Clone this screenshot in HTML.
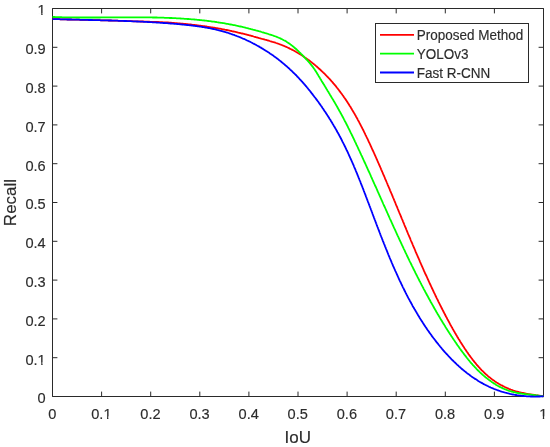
<!DOCTYPE html>
<html><head><meta charset="utf-8"><title>Recall vs IoU</title>
<style>
html,body{margin:0;padding:0;background:#fff;}
body{width:550px;height:447px;overflow:hidden;}
svg{display:block;}
text{font-family:"Liberation Sans",Arial,Helvetica,sans-serif;fill:#2c2c2c;stroke:#2c2c2c;stroke-width:0.15px;}
</style></head><body>
<svg width="550" height="447" viewBox="0 0 550 447">
<rect width="550" height="447" fill="#fff"/>
<path d="M52.50 8.50H543.50V396.50H52.50Z M52.50 396.50V391.60 M52.50 8.50V13.40 M52.50 396.50H57.40 M543.50 396.50H538.60 M101.60 396.50V391.60 M101.60 8.50V13.40 M52.50 357.70H57.40 M543.50 357.70H538.60 M150.70 396.50V391.60 M150.70 8.50V13.40 M52.50 318.90H57.40 M543.50 318.90H538.60 M199.80 396.50V391.60 M199.80 8.50V13.40 M52.50 280.10H57.40 M543.50 280.10H538.60 M248.90 396.50V391.60 M248.90 8.50V13.40 M52.50 241.30H57.40 M543.50 241.30H538.60 M298.00 396.50V391.60 M298.00 8.50V13.40 M52.50 202.50H57.40 M543.50 202.50H538.60 M347.10 396.50V391.60 M347.10 8.50V13.40 M52.50 163.70H57.40 M543.50 163.70H538.60 M396.20 396.50V391.60 M396.20 8.50V13.40 M52.50 124.90H57.40 M543.50 124.90H538.60 M445.30 396.50V391.60 M445.30 8.50V13.40 M52.50 86.10H57.40 M543.50 86.10H538.60 M494.40 396.50V391.60 M494.40 8.50V13.40 M52.50 47.30H57.40 M543.50 47.30H538.60 M543.50 396.50V391.60 M543.50 8.50V13.40 M52.50 8.50H57.40 M543.50 8.50H538.60" fill="none" stroke="#2a2a2a" stroke-width="1"/>
<g>
<path d="M52.5 19.1 L53.5 19.1 54.5 19.1 55.5 19.1 56.4 19.2 57.4 19.2 58.4 19.2 59.4 19.2 60.4 19.3 61.4 19.3 62.3 19.3 63.3 19.4 64.3 19.4 65.3 19.4 66.3 19.4 67.3 19.5 68.3 19.5 69.2 19.5 70.2 19.5 71.2 19.5 72.2 19.6 73.2 19.6 74.2 19.6 75.2 19.6 76.2 19.7 77.1 19.7 78.1 19.7 79.1 19.7 80.1 19.8 81.1 19.8 82.1 19.8 83.1 19.8 84.1 19.8 85.0 19.9 86.0 19.9 87.0 19.9 88.0 19.9 89.0 20.0 90.0 20.0 91.0 20.0 92.0 20.0 93.0 20.1 93.9 20.1 94.9 20.1 95.9 20.1 96.9 20.2 97.9 20.2 98.9 20.2 99.9 20.2 100.9 20.3 101.9 20.3 102.8 20.3 103.8 20.3 104.8 20.4 105.8 20.4 106.8 20.4 107.8 20.4 108.8 20.5 109.8 20.5 110.8 20.5 111.8 20.6 112.7 20.6 113.7 20.6 114.7 20.6 115.7 20.7 116.7 20.7 117.7 20.7 118.7 20.8 119.7 20.8 120.7 20.8 121.7 20.9 122.6 20.9 123.6 20.9 124.6 21.0 125.6 21.0 126.6 21.0 127.6 21.1 128.6 21.1 129.6 21.1 130.6 21.2 131.5 21.2 132.5 21.2 133.5 21.3 134.5 21.3 135.5 21.3 136.5 21.3 137.5 21.4 138.5 21.4 139.5 21.4 140.4 21.5 141.4 21.5 142.4 21.5 143.4 21.5 144.4 21.6 145.4 21.6 146.4 21.6 147.4 21.7 148.4 21.7 149.3 21.7 150.3 21.8 151.3 21.8 152.3 21.8 153.3 21.9 154.3 21.9 155.3 21.9 156.2 22.0 157.2 22.0 158.2 22.0 159.2 22.1 160.2 22.1 161.2 22.2 162.2 22.2 163.2 22.3 164.1 22.3 165.1 22.4 166.1 22.4 167.1 22.5 168.1 22.5 169.1 22.6 170.0 22.7 171.0 22.7 172.0 22.8 173.0 22.9 174.0 23.0 175.0 23.1 175.9 23.1 176.9 23.2 177.9 23.3 178.9 23.4 179.9 23.5 180.9 23.6 181.8 23.6 182.8 23.7 183.8 23.8 184.8 23.9 185.8 24.0 186.7 24.1 187.7 24.2 188.7 24.3 189.7 24.4 190.7 24.5 191.6 24.6 192.6 24.8 193.6 24.9 194.6 25.0 195.6 25.1 196.5 25.2 197.5 25.3 198.5 25.5 199.5 25.6 200.5 25.7 201.4 25.8 202.4 26.0 203.4 26.1 204.4 26.2 205.3 26.4 206.3 26.5 207.3 26.7 208.3 26.8 209.2 27.0 210.2 27.1 211.2 27.3 212.2 27.4 213.1 27.6 214.1 27.7 215.1 27.9 216.0 28.1 217.0 28.2 218.0 28.4 219.0 28.6 219.9 28.7 220.9 28.9 221.9 29.1 222.8 29.3 223.8 29.5 224.8 29.7 225.7 29.8 226.7 30.0 227.7 30.2 228.6 30.4 229.6 30.6 230.6 30.8 231.5 31.0 232.5 31.3 233.5 31.5 234.4 31.7 235.4 31.9 236.4 32.1 237.3 32.3 238.3 32.6 239.2 32.8 240.2 33.0 241.2 33.3 242.1 33.5 243.1 33.7 244.1 34.0 245.0 34.2 246.0 34.5 246.9 34.7 247.9 35.0 248.8 35.2 249.8 35.5 250.8 35.7 251.7 36.0 252.7 36.2 253.6 36.5 254.6 36.8 255.5 37.0 256.5 37.3 257.4 37.5 258.4 37.8 259.3 38.1 260.3 38.3 261.2 38.6 262.2 38.9 263.1 39.1 264.1 39.4 265.0 39.7 266.0 39.9 266.9 40.2 267.8 40.5 268.8 40.7 269.7 41.0 270.7 41.3 271.6 41.6 272.5 41.9 273.5 42.1 274.4 42.4 275.3 42.7 276.2 43.0 277.2 43.3 278.1 43.7 279.0 44.0 279.9 44.3 280.8 44.7 281.7 45.0 282.6 45.4 283.5 45.7 284.4 46.1 285.3 46.5 286.2 46.9 287.1 47.3 288.0 47.7 288.9 48.1 289.8 48.6 290.6 49.0 291.5 49.4 292.4 49.9 293.2 50.3 294.1 50.8 295.0 51.3 295.8 51.8 296.7 52.2 297.5 52.7 298.4 53.2 299.2 53.7 300.0 54.3 300.9 54.8 301.7 55.3 302.5 55.8 303.3 56.4 304.2 56.9 305.0 57.5 305.8 58.0 306.6 58.6 307.4 59.2 308.2 59.8 309.0 60.3 309.8 60.9 310.5 61.5 311.3 62.1 312.1 62.8 312.9 63.4 313.7 64.0 314.4 64.6 315.2 65.2 315.9 65.9 316.7 66.5 317.4 67.2 318.2 67.8 318.9 68.5 319.7 69.2 320.4 69.8 321.1 70.5 321.8 71.2 322.6 71.9 323.3 72.6 324.0 73.2 324.7 73.9 325.4 74.6 326.1 75.4 326.8 76.1 327.5 76.8 328.2 77.5 328.8 78.2 329.5 78.9 330.2 79.7 330.8 80.4 331.5 81.2 332.2 81.9 332.8 82.6 333.4 83.4 334.1 84.2 334.7 84.9 335.4 85.7 336.0 86.4 336.6 87.2 337.2 88.0 337.8 88.7 338.4 89.5 339.0 90.3 339.6 91.1 340.2 91.9 340.8 92.7 341.4 93.5 342.0 94.3 342.5 95.0 343.1 95.8 343.7 96.7 344.2 97.5 344.8 98.3 345.4 99.1 345.9 99.9 346.5 100.7 347.0 101.5 347.5 102.4 348.1 103.2 348.6 104.0 349.1 104.8 349.6 105.7 350.2 106.5 350.7 107.3 351.2 108.2 351.7 109.0 352.2 109.9 352.7 110.7 353.2 111.6 353.7 112.4 354.2 113.3 354.7 114.1 355.2 115.0 355.7 115.8 356.1 116.7 356.6 117.5 357.1 118.4 357.6 119.3 358.0 120.1 358.5 121.0 359.0 121.9 359.4 122.7 359.9 123.6 360.3 124.5 360.8 125.4 361.2 126.2 361.7 127.1 362.1 128.0 362.6 128.9 363.0 129.8 363.5 130.6 363.9 131.5 364.3 132.4 364.8 133.3 365.2 134.2 365.6 135.1 366.1 136.0 366.5 136.9 366.9 137.7 367.4 138.6 367.8 139.5 368.2 140.4 368.6 141.3 369.0 142.2 369.5 143.1 369.9 144.0 370.3 144.9 370.7 145.8 371.1 146.7 371.5 147.6 371.9 148.5 372.3 149.4 372.7 150.3 373.2 151.2 373.6 152.1 374.0 153.0 374.4 153.9 374.8 154.8 375.2 155.7 375.6 156.6 376.0 157.5 376.4 158.4 376.8 159.3 377.2 160.2 377.6 161.2 378.0 162.1 378.4 163.0 378.8 163.9 379.2 164.8 379.6 165.7 380.0 166.6 380.4 167.5 380.8 168.4 381.1 169.3 381.5 170.2 381.9 171.1 382.3 172.0 382.7 172.9 383.1 173.9 383.5 174.8 383.9 175.7 384.3 176.6 384.7 177.5 385.0 178.4 385.4 179.3 385.8 180.2 386.2 181.1 386.6 182.0 387.0 183.0 387.4 183.9 387.7 184.8 388.1 185.7 388.5 186.6 388.9 187.5 389.3 188.4 389.7 189.3 390.0 190.3 390.4 191.2 390.8 192.1 391.2 193.0 391.6 193.9 392.0 194.8 392.3 195.7 392.7 196.6 393.1 197.6 393.5 198.5 393.9 199.4 394.2 200.3 394.6 201.2 395.0 202.1 395.4 203.0 395.7 203.9 396.1 204.9 396.5 205.8 396.9 206.7 397.3 207.6 397.6 208.5 398.0 209.4 398.4 210.3 398.8 211.3 399.2 212.2 399.5 213.1 399.9 214.0 400.3 214.9 400.7 215.8 401.0 216.7 401.4 217.6 401.8 218.6 402.2 219.5 402.6 220.4 402.9 221.3 403.3 222.2 403.7 223.1 404.1 224.0 404.4 225.0 404.8 225.9 405.2 226.8 405.6 227.7 406.0 228.6 406.3 229.5 406.7 230.4 407.1 231.3 407.5 232.3 407.9 233.2 408.2 234.1 408.6 235.0 409.0 235.9 409.4 236.8 409.8 237.7 410.2 238.6 410.5 239.5 410.9 240.5 411.3 241.4 411.7 242.3 412.1 243.2 412.5 244.1 412.8 245.0 413.2 245.9 413.6 246.8 414.0 247.7 414.4 248.6 414.8 249.5 415.2 250.5 415.5 251.4 415.9 252.3 416.3 253.2 416.7 254.1 417.1 255.0 417.5 255.9 417.9 256.8 418.3 257.7 418.7 258.6 419.1 259.5 419.5 260.4 419.8 261.3 420.2 262.2 420.6 263.1 421.0 264.0 421.4 264.9 421.8 265.8 422.2 266.7 422.6 267.6 423.0 268.5 423.4 269.4 423.8 270.4 424.2 271.3 424.6 272.2 425.0 273.1 425.4 274.0 425.8 274.8 426.3 275.7 426.7 276.6 427.1 277.5 427.5 278.4 427.9 279.3 428.3 280.2 428.7 281.1 429.1 282.0 429.5 282.9 429.9 283.8 430.4 284.7 430.8 285.6 431.2 286.5 431.6 287.4 432.0 288.3 432.5 289.2 432.9 290.1 433.3 291.0 433.7 291.8 434.1 292.7 434.6 293.6 435.0 294.5 435.4 295.4 435.8 296.3 436.3 297.2 436.7 298.1 437.1 298.9 437.6 299.8 438.0 300.7 438.4 301.6 438.9 302.5 439.3 303.4 439.8 304.3 440.2 305.1 440.6 306.0 441.1 306.9 441.5 307.8 442.0 308.7 442.4 309.5 442.9 310.4 443.3 311.3 443.8 312.2 444.2 313.0 444.7 313.9 445.1 314.8 445.6 315.7 446.0 316.5 446.5 317.4 447.0 318.3 447.4 319.2 447.9 320.0 448.4 320.9 448.8 321.8 449.3 322.6 449.8 323.5 450.2 324.4 450.7 325.2 451.2 326.1 451.7 327.0 452.2 327.8 452.6 328.7 453.1 329.5 453.6 330.4 454.1 331.3 454.6 332.1 455.1 333.0 455.6 333.8 456.1 334.7 456.6 335.5 457.1 336.4 457.6 337.2 458.1 338.1 458.6 338.9 459.2 339.8 459.7 340.6 460.2 341.5 460.7 342.3 461.3 343.2 461.8 344.0 462.3 344.8 462.9 345.7 463.4 346.5 464.0 347.3 464.5 348.2 465.0 349.0 465.6 349.8 466.2 350.7 466.7 351.5 467.3 352.3 467.9 353.1 468.4 354.0 469.0 354.8 469.6 355.6 470.2 356.4 470.8 357.2 471.4 358.0 472.0 358.8 472.6 359.6 473.2 360.3 473.8 361.1 474.4 361.9 475.0 362.7 475.7 363.4 476.3 364.2 476.9 365.0 477.6 365.7 478.2 366.4 478.9 367.2 479.6 367.9 480.2 368.6 480.9 369.3 481.6 370.1 482.3 370.8 483.0 371.4 483.7 372.1 484.4 372.8 485.1 373.5 485.8 374.1 486.5 374.8 487.3 375.4 488.0 376.1 488.7 376.7 489.5 377.3 490.3 377.9 491.0 378.5 491.8 379.1 492.6 379.7 493.4 380.3 494.2 380.8 495.0 381.4 495.8 381.9 496.6 382.5 497.5 383.0 498.3 383.5 499.1 384.0 500.0 384.5 500.9 385.0 501.7 385.4 502.6 385.9 503.5 386.3 504.3 386.8 505.2 387.2 506.1 387.6 507.0 388.0 507.9 388.4 508.8 388.8 509.7 389.1 510.7 389.5 511.6 389.8 512.5 390.2 513.4 390.5 514.4 390.8 515.3 391.1 516.3 391.4 517.2 391.6 518.2 391.9 519.1 392.2 520.1 392.4 521.1 392.6 522.0 392.8 523.0 393.0 524.0 393.2 525.0 393.4 525.9 393.6 526.9 393.8 527.9 394.0 528.9 394.1 529.9 394.3 530.8 394.4 531.8 394.6 532.8 394.7 533.8 394.9 534.8 395.0 535.8 395.2 536.7 395.3 537.7 395.4 538.7 395.6 539.7 395.7 540.6 395.9 541.6 396.0 542.6 396.2 543.5 396.3" fill="none" stroke="#ff0000" stroke-width="1.8" stroke-linejoin="round"/>
<path d="M52.5 17.0 L53.5 17.0 54.5 17.0 55.5 17.1 56.5 17.1 57.5 17.1 58.4 17.2 59.4 17.2 60.4 17.2 61.4 17.2 62.4 17.3 63.4 17.3 64.4 17.3 65.4 17.3 66.4 17.3 67.3 17.3 68.3 17.4 69.3 17.4 70.3 17.4 71.3 17.4 72.3 17.4 73.3 17.4 74.3 17.4 75.3 17.4 76.3 17.5 77.3 17.5 78.2 17.5 79.2 17.5 80.2 17.5 81.2 17.5 82.2 17.5 83.2 17.5 84.2 17.5 85.2 17.5 86.2 17.5 87.2 17.5 88.2 17.5 89.2 17.5 90.2 17.5 91.1 17.5 92.1 17.5 93.1 17.5 94.1 17.5 95.1 17.5 96.1 17.5 97.1 17.5 98.1 17.5 99.1 17.5 100.1 17.5 101.1 17.4 102.1 17.4 103.1 17.4 104.1 17.4 105.1 17.4 106.1 17.4 107.1 17.4 108.0 17.4 109.0 17.4 110.0 17.4 111.0 17.4 112.0 17.4 113.0 17.4 114.0 17.4 115.0 17.4 116.0 17.4 117.0 17.3 118.0 17.3 119.0 17.3 120.0 17.3 121.0 17.3 122.0 17.3 123.0 17.3 124.0 17.3 125.0 17.3 126.0 17.3 126.9 17.3 127.9 17.3 128.9 17.3 129.9 17.3 130.9 17.3 131.9 17.3 132.9 17.3 133.9 17.3 134.9 17.3 135.9 17.3 136.9 17.3 137.9 17.3 138.9 17.3 139.9 17.3 140.9 17.3 141.9 17.3 142.9 17.3 143.9 17.3 144.9 17.4 145.8 17.4 146.8 17.4 147.8 17.4 148.8 17.4 149.8 17.4 150.8 17.4 151.8 17.4 152.8 17.5 153.8 17.5 154.8 17.5 155.8 17.5 156.8 17.5 157.8 17.6 158.8 17.6 159.8 17.6 160.7 17.6 161.7 17.7 162.7 17.7 163.7 17.7 164.7 17.8 165.7 17.8 166.7 17.8 167.7 17.9 168.7 17.9 169.7 18.0 170.7 18.0 171.7 18.0 172.6 18.1 173.6 18.1 174.6 18.2 175.6 18.2 176.6 18.3 177.6 18.3 178.6 18.4 179.6 18.4 180.6 18.5 181.6 18.6 182.5 18.6 183.5 18.7 184.5 18.8 185.5 18.8 186.5 18.9 187.5 19.0 188.5 19.0 189.5 19.1 190.4 19.2 191.4 19.3 192.4 19.3 193.4 19.4 194.4 19.5 195.4 19.6 196.4 19.7 197.3 19.8 198.3 19.9 199.3 20.0 200.3 20.1 201.3 20.2 202.3 20.3 203.3 20.4 204.2 20.5 205.2 20.6 206.2 20.7 207.2 20.9 208.2 21.0 209.2 21.1 210.1 21.2 211.1 21.3 212.1 21.5 213.1 21.6 214.1 21.7 215.0 21.9 216.0 22.0 217.0 22.2 218.0 22.3 219.0 22.5 219.9 22.6 220.9 22.8 221.9 22.9 222.9 23.1 223.8 23.2 224.8 23.4 225.8 23.6 226.8 23.8 227.8 23.9 228.7 24.1 229.7 24.3 230.7 24.5 231.7 24.7 232.6 24.9 233.6 25.1 234.6 25.2 235.5 25.4 236.5 25.7 237.5 25.9 238.5 26.1 239.4 26.3 240.4 26.5 241.4 26.7 242.3 26.9 243.3 27.2 244.3 27.4 245.3 27.6 246.2 27.9 247.2 28.1 248.2 28.3 249.1 28.6 250.1 28.8 251.1 29.1 252.0 29.3 253.0 29.6 253.9 29.8 254.9 30.1 255.9 30.4 256.8 30.6 257.8 30.9 258.7 31.2 259.7 31.4 260.7 31.7 261.6 32.0 262.6 32.3 263.5 32.5 264.5 32.8 265.4 33.1 266.4 33.4 267.3 33.7 268.3 34.0 269.2 34.3 270.2 34.6 271.1 34.9 272.0 35.2 273.0 35.5 273.9 35.9 274.8 36.2 275.8 36.5 276.7 36.9 277.6 37.3 278.5 37.7 279.4 38.0 280.3 38.4 281.2 38.9 282.1 39.3 282.9 39.7 283.8 40.2 284.7 40.6 285.5 41.1 286.3 41.6 287.2 42.2 288.0 42.7 288.8 43.2 289.6 43.8 290.4 44.4 291.2 45.0 292.0 45.6 292.8 46.2 293.6 46.9 294.3 47.5 295.1 48.2 295.8 48.8 296.6 49.5 297.3 50.2 298.1 50.9 298.8 51.6 299.5 52.3 300.2 53.0 300.9 53.7 301.7 54.4 302.4 55.1 303.1 55.9 303.8 56.6 304.4 57.3 305.1 58.0 305.8 58.8 306.5 59.5 307.2 60.2 307.8 60.9 308.5 61.7 309.1 62.4 309.8 63.1 310.4 63.9 311.0 64.6 311.6 65.4 312.2 66.2 312.8 66.9 313.4 67.7 313.9 68.5 314.5 69.3 315.0 70.1 315.6 70.9 316.1 71.7 316.6 72.6 317.1 73.4 317.6 74.2 318.1 75.0 318.6 75.9 319.1 76.7 319.6 77.5 320.1 78.4 320.6 79.2 321.1 80.0 321.6 80.9 322.1 81.7 322.6 82.6 323.1 83.4 323.7 84.2 324.2 85.1 324.7 85.9 325.2 86.8 325.7 87.6 326.2 88.4 326.7 89.3 327.2 90.1 327.7 91.0 328.3 91.8 328.8 92.7 329.3 93.5 329.8 94.4 330.3 95.2 330.8 96.1 331.3 96.9 331.8 97.8 332.3 98.6 332.9 99.5 333.4 100.3 333.9 101.2 334.4 102.0 334.9 102.9 335.4 103.8 335.9 104.6 336.4 105.5 336.9 106.3 337.4 107.2 337.8 108.1 338.3 108.9 338.8 109.8 339.3 110.7 339.8 111.5 340.3 112.4 340.7 113.3 341.2 114.1 341.7 115.0 342.2 115.9 342.6 116.8 343.1 117.6 343.6 118.5 344.0 119.4 344.5 120.3 344.9 121.2 345.4 122.0 345.9 122.9 346.3 123.8 346.8 124.7 347.2 125.6 347.7 126.4 348.1 127.3 348.5 128.2 349.0 129.1 349.4 130.0 349.9 130.9 350.3 131.8 350.7 132.7 351.2 133.6 351.6 134.4 352.0 135.3 352.5 136.2 352.9 137.1 353.3 138.0 353.8 138.9 354.2 139.8 354.6 140.7 355.0 141.6 355.5 142.5 355.9 143.4 356.3 144.3 356.7 145.2 357.2 146.1 357.6 147.0 358.0 147.9 358.4 148.8 358.8 149.7 359.3 150.6 359.7 151.5 360.1 152.4 360.5 153.3 360.9 154.2 361.3 155.1 361.8 156.0 362.2 156.9 362.6 157.8 363.0 158.7 363.4 159.6 363.8 160.5 364.2 161.4 364.6 162.3 365.1 163.2 365.5 164.1 365.9 165.0 366.3 165.9 366.7 166.8 367.1 167.7 367.5 168.6 367.9 169.5 368.3 170.4 368.7 171.3 369.2 172.2 369.6 173.1 370.0 174.0 370.4 174.9 370.8 175.8 371.2 176.8 371.6 177.7 372.0 178.6 372.4 179.5 372.8 180.4 373.2 181.3 373.6 182.2 374.0 183.1 374.4 184.0 374.8 184.9 375.2 185.8 375.7 186.7 376.1 187.6 376.5 188.5 376.9 189.4 377.3 190.3 377.7 191.3 378.1 192.2 378.5 193.1 378.9 194.0 379.3 194.9 379.7 195.8 380.1 196.7 380.5 197.6 380.9 198.5 381.3 199.4 381.7 200.3 382.1 201.2 382.5 202.1 382.9 203.0 383.3 204.0 383.7 204.9 384.1 205.8 384.6 206.7 385.0 207.6 385.4 208.5 385.8 209.4 386.2 210.3 386.6 211.2 387.0 212.1 387.4 213.0 387.8 213.9 388.2 214.8 388.6 215.7 389.0 216.6 389.4 217.5 389.8 218.5 390.2 219.4 390.7 220.3 391.1 221.2 391.5 222.1 391.9 223.0 392.3 223.9 392.7 224.8 393.1 225.7 393.5 226.6 393.9 227.5 394.3 228.4 394.8 229.3 395.2 230.2 395.6 231.1 396.0 232.0 396.4 232.9 396.8 233.8 397.2 234.7 397.6 235.6 398.1 236.5 398.5 237.4 398.9 238.3 399.3 239.2 399.7 240.1 400.1 241.0 400.6 241.9 401.0 242.8 401.4 243.7 401.8 244.6 402.2 245.5 402.7 246.4 403.1 247.3 403.5 248.2 403.9 249.1 404.4 250.0 404.8 250.9 405.2 251.8 405.6 252.7 406.1 253.6 406.5 254.5 406.9 255.4 407.3 256.3 407.8 257.2 408.2 258.1 408.6 259.0 409.1 259.9 409.5 260.8 409.9 261.6 410.4 262.5 410.8 263.4 411.2 264.3 411.7 265.2 412.1 266.1 412.6 267.0 413.0 267.9 413.4 268.8 413.9 269.7 414.3 270.5 414.8 271.4 415.2 272.3 415.6 273.2 416.1 274.1 416.5 275.0 417.0 275.9 417.4 276.7 417.9 277.6 418.3 278.5 418.8 279.4 419.2 280.3 419.7 281.2 420.2 282.0 420.6 282.9 421.1 283.8 421.5 284.7 422.0 285.6 422.4 286.4 422.9 287.3 423.4 288.2 423.8 289.1 424.3 290.0 424.8 290.8 425.2 291.7 425.7 292.6 426.2 293.5 426.6 294.3 427.1 295.2 427.6 296.1 428.1 296.9 428.5 297.8 429.0 298.7 429.5 299.6 430.0 300.4 430.4 301.3 430.9 302.2 431.4 303.0 431.9 303.9 432.4 304.8 432.9 305.6 433.4 306.5 433.8 307.3 434.3 308.2 434.8 309.1 435.3 309.9 435.8 310.8 436.3 311.7 436.8 312.5 437.3 313.4 437.8 314.2 438.3 315.1 438.8 315.9 439.3 316.8 439.8 317.6 440.3 318.5 440.9 319.4 441.4 320.2 441.9 321.1 442.4 321.9 442.9 322.8 443.4 323.6 444.0 324.4 444.5 325.3 445.0 326.1 445.5 327.0 446.0 327.8 446.6 328.7 447.1 329.5 447.6 330.3 448.2 331.2 448.7 332.0 449.2 332.8 449.8 333.7 450.3 334.5 450.9 335.3 451.4 336.2 452.0 337.0 452.5 337.8 453.1 338.7 453.6 339.5 454.2 340.3 454.7 341.1 455.3 342.0 455.9 342.8 456.4 343.6 457.0 344.4 457.5 345.2 458.1 346.0 458.7 346.8 459.3 347.7 459.8 348.5 460.4 349.3 461.0 350.1 461.6 350.9 462.2 351.7 462.8 352.5 463.4 353.3 464.0 354.1 464.6 354.9 465.2 355.6 465.8 356.4 466.4 357.2 467.0 358.0 467.6 358.7 468.2 359.5 468.9 360.3 469.5 361.0 470.1 361.8 470.8 362.6 471.4 363.3 472.1 364.0 472.7 364.8 473.4 365.5 474.0 366.2 474.7 367.0 475.4 367.7 476.1 368.4 476.7 369.1 477.4 369.8 478.1 370.5 478.8 371.2 479.5 371.9 480.3 372.6 481.0 373.3 481.7 373.9 482.4 374.6 483.2 375.2 483.9 375.9 484.7 376.5 485.4 377.2 486.2 377.8 487.0 378.4 487.8 379.0 488.6 379.6 489.4 380.2 490.2 380.8 491.0 381.4 491.8 382.0 492.6 382.5 493.4 383.1 494.3 383.6 495.1 384.1 495.9 384.7 496.8 385.2 497.7 385.7 498.5 386.1 499.4 386.6 500.3 387.1 501.1 387.5 502.0 387.9 502.9 388.4 503.8 388.8 504.7 389.2 505.6 389.5 506.6 389.9 507.5 390.2 508.4 390.6 509.3 390.9 510.3 391.2 511.2 391.5 512.2 391.7 513.1 392.0 514.1 392.2 515.0 392.4 516.0 392.6 516.9 392.8 517.9 393.0 518.9 393.2 519.9 393.4 520.8 393.5 521.8 393.7 522.8 393.8 523.8 393.9 524.8 394.1 525.8 394.2 526.8 394.3 527.8 394.4 528.7 394.5 529.7 394.6 530.7 394.7 531.7 394.9 532.7 395.0 533.7 395.1 534.7 395.2 535.7 395.3 536.7 395.4 537.6 395.5 538.6 395.7 539.6 395.8 540.6 396.0 541.6 396.1 542.5 396.3 543.5 396.4" fill="none" stroke="#00ff00" stroke-width="1.8" stroke-linejoin="round"/>
<path d="M52.5 19.1 L53.5 19.1 54.5 19.1 55.5 19.1 56.4 19.2 57.4 19.2 58.4 19.2 59.4 19.2 60.4 19.3 61.4 19.3 62.4 19.3 63.3 19.4 64.3 19.4 65.3 19.4 66.3 19.4 67.3 19.5 68.3 19.5 69.3 19.5 70.2 19.5 71.2 19.5 72.2 19.6 73.2 19.6 74.2 19.6 75.2 19.6 76.1 19.7 77.1 19.7 78.1 19.7 79.1 19.7 80.1 19.8 81.0 19.8 82.0 19.8 83.0 19.8 84.0 19.8 85.0 19.9 86.0 19.9 86.9 19.9 87.9 19.9 88.9 20.0 89.9 20.0 90.9 20.0 91.8 20.0 92.8 20.1 93.8 20.1 94.8 20.1 95.8 20.1 96.7 20.2 97.7 20.2 98.7 20.2 99.7 20.2 100.7 20.3 101.6 20.3 102.6 20.3 103.6 20.3 104.6 20.4 105.6 20.4 106.5 20.4 107.5 20.4 108.5 20.5 109.5 20.5 110.4 20.5 111.4 20.5 112.4 20.6 113.4 20.6 114.4 20.6 115.3 20.7 116.3 20.7 117.3 20.7 118.3 20.8 119.3 20.8 120.2 20.8 121.2 20.9 122.2 20.9 123.2 20.9 124.2 21.0 125.1 21.0 126.1 21.0 127.1 21.1 128.1 21.1 129.0 21.1 130.0 21.2 131.0 21.2 132.0 21.3 133.0 21.3 133.9 21.3 134.9 21.4 135.9 21.4 136.9 21.5 137.9 21.5 138.8 21.6 139.8 21.6 140.8 21.7 141.8 21.7 142.8 21.7 143.7 21.8 144.7 21.8 145.7 21.9 146.7 21.9 147.7 22.0 148.6 22.1 149.6 22.1 150.6 22.2 151.6 22.2 152.6 22.3 153.5 22.3 154.5 22.4 155.5 22.4 156.5 22.5 157.5 22.6 158.5 22.6 159.4 22.7 160.4 22.8 161.4 22.8 162.4 22.9 163.4 23.0 164.3 23.0 165.3 23.1 166.3 23.2 167.3 23.2 168.3 23.3 169.3 23.4 170.2 23.5 171.2 23.5 172.2 23.6 173.2 23.7 174.2 23.8 175.2 23.9 176.1 23.9 177.1 24.0 178.1 24.1 179.1 24.2 180.1 24.3 181.1 24.4 182.1 24.5 183.0 24.6 184.0 24.7 185.0 24.8 186.0 24.9 187.0 25.0 188.0 25.1 188.9 25.2 189.9 25.3 190.9 25.4 191.9 25.5 192.9 25.6 193.9 25.8 194.8 25.9 195.8 26.0 196.8 26.1 197.8 26.3 198.7 26.4 199.7 26.6 200.7 26.7 201.7 26.9 202.6 27.0 203.6 27.2 204.6 27.3 205.6 27.5 206.5 27.7 207.5 27.8 208.5 28.0 209.4 28.2 210.4 28.4 211.4 28.6 212.3 28.8 213.3 29.0 214.2 29.2 215.2 29.4 216.2 29.6 217.1 29.9 218.1 30.1 219.0 30.3 220.0 30.6 220.9 30.8 221.9 31.1 222.8 31.4 223.7 31.6 224.7 31.9 225.6 32.2 226.6 32.5 227.5 32.7 228.4 33.0 229.3 33.3 230.3 33.7 231.2 34.0 232.1 34.3 233.0 34.6 234.0 34.9 234.9 35.3 235.8 35.6 236.7 36.0 237.6 36.3 238.5 36.7 239.4 37.0 240.3 37.4 241.2 37.8 242.1 38.2 243.0 38.6 243.9 38.9 244.8 39.3 245.7 39.7 246.6 40.2 247.5 40.6 248.4 41.0 249.2 41.4 250.1 41.8 251.0 42.3 251.9 42.7 252.7 43.2 253.6 43.6 254.5 44.1 255.3 44.5 256.2 45.0 257.0 45.5 257.9 45.9 258.7 46.4 259.6 46.9 260.4 47.4 261.3 47.9 262.1 48.4 263.0 48.9 263.8 49.4 264.6 49.9 265.4 50.4 266.3 51.0 267.1 51.5 267.9 52.0 268.7 52.6 269.5 53.1 270.3 53.7 271.2 54.2 272.0 54.8 272.8 55.3 273.6 55.9 274.3 56.5 275.1 57.1 275.9 57.6 276.7 58.2 277.5 58.8 278.3 59.4 279.0 60.0 279.8 60.6 280.6 61.2 281.3 61.8 282.1 62.5 282.9 63.1 283.6 63.7 284.4 64.3 285.1 65.0 285.8 65.6 286.6 66.3 287.3 66.9 288.1 67.6 288.8 68.2 289.5 68.9 290.2 69.6 290.9 70.2 291.7 70.9 292.4 71.6 293.1 72.3 293.8 73.0 294.5 73.6 295.2 74.3 295.9 75.0 296.6 75.7 297.2 76.5 297.9 77.2 298.6 77.9 299.3 78.6 299.9 79.3 300.6 80.0 301.3 80.8 301.9 81.5 302.6 82.2 303.2 83.0 303.9 83.7 304.5 84.5 305.2 85.2 305.8 86.0 306.5 86.7 307.1 87.5 307.7 88.2 308.3 89.0 309.0 89.8 309.6 90.5 310.2 91.3 310.8 92.1 311.4 92.9 312.0 93.6 312.6 94.4 313.2 95.2 313.8 96.0 314.4 96.8 315.0 97.5 315.6 98.3 316.2 99.1 316.8 99.9 317.4 100.7 318.0 101.5 318.6 102.3 319.1 103.1 319.7 103.9 320.3 104.7 320.8 105.5 321.4 106.3 322.0 107.1 322.5 108.0 323.1 108.8 323.6 109.6 324.2 110.4 324.7 111.2 325.3 112.0 325.8 112.9 326.4 113.7 326.9 114.5 327.4 115.3 328.0 116.2 328.5 117.0 329.0 117.8 329.5 118.7 330.1 119.5 330.6 120.3 331.1 121.2 331.6 122.0 332.1 122.8 332.6 123.7 333.1 124.5 333.6 125.4 334.1 126.2 334.6 127.1 335.1 127.9 335.6 128.8 336.1 129.6 336.6 130.5 337.0 131.3 337.5 132.2 338.0 133.0 338.5 133.9 338.9 134.8 339.4 135.6 339.8 136.5 340.3 137.3 340.8 138.2 341.2 139.1 341.7 139.9 342.1 140.8 342.5 141.7 343.0 142.6 343.4 143.4 343.9 144.3 344.3 145.2 344.7 146.1 345.2 146.9 345.6 147.8 346.0 148.7 346.4 149.6 346.8 150.5 347.3 151.3 347.7 152.2 348.1 153.1 348.5 154.0 348.9 154.9 349.3 155.8 349.7 156.7 350.1 157.6 350.5 158.5 350.9 159.3 351.3 160.2 351.7 161.1 352.1 162.0 352.5 162.9 352.9 163.8 353.3 164.7 353.7 165.6 354.0 166.5 354.4 167.4 354.8 168.3 355.2 169.2 355.6 170.1 355.9 171.0 356.3 171.9 356.7 172.8 357.1 173.7 357.4 174.7 357.8 175.6 358.2 176.5 358.5 177.4 358.9 178.3 359.3 179.2 359.6 180.1 360.0 181.0 360.4 181.9 360.7 182.8 361.1 183.8 361.4 184.7 361.8 185.6 362.2 186.5 362.5 187.4 362.9 188.3 363.2 189.2 363.6 190.2 363.9 191.1 364.3 192.0 364.6 192.9 365.0 193.8 365.3 194.7 365.7 195.7 366.0 196.6 366.4 197.5 366.7 198.4 367.1 199.3 367.4 200.3 367.8 201.2 368.1 202.1 368.5 203.0 368.8 203.9 369.2 204.9 369.5 205.8 369.9 206.7 370.2 207.6 370.6 208.5 370.9 209.5 371.3 210.4 371.6 211.3 372.0 212.2 372.3 213.1 372.6 214.1 373.0 215.0 373.3 215.9 373.7 216.8 374.0 217.8 374.4 218.7 374.7 219.6 375.1 220.5 375.4 221.4 375.8 222.4 376.1 223.3 376.5 224.2 376.8 225.1 377.2 226.1 377.5 227.0 377.9 227.9 378.2 228.8 378.6 229.7 378.9 230.7 379.3 231.6 379.6 232.5 380.0 233.4 380.3 234.3 380.7 235.3 381.1 236.2 381.4 237.1 381.8 238.0 382.1 238.9 382.5 239.8 382.8 240.8 383.2 241.7 383.6 242.6 383.9 243.5 384.3 244.4 384.7 245.3 385.0 246.3 385.4 247.2 385.8 248.1 386.1 249.0 386.5 249.9 386.9 250.8 387.2 251.7 387.6 252.7 388.0 253.6 388.3 254.5 388.7 255.4 389.1 256.3 389.5 257.2 389.8 258.1 390.2 259.0 390.6 259.9 391.0 260.8 391.4 261.7 391.7 262.6 392.1 263.5 392.5 264.4 392.9 265.4 393.3 266.3 393.7 267.2 394.1 268.1 394.5 269.0 394.9 269.9 395.3 270.8 395.7 271.6 396.1 272.5 396.5 273.4 396.9 274.3 397.3 275.2 397.7 276.1 398.1 277.0 398.5 277.9 398.9 278.8 399.3 279.7 399.7 280.6 400.2 281.5 400.6 282.3 401.0 283.2 401.4 284.1 401.8 285.0 402.3 285.9 402.7 286.8 403.1 287.6 403.6 288.5 404.0 289.4 404.4 290.3 404.9 291.2 405.3 292.0 405.7 292.9 406.2 293.8 406.6 294.6 407.1 295.5 407.5 296.4 408.0 297.2 408.4 298.1 408.9 299.0 409.4 299.8 409.8 300.7 410.3 301.6 410.8 302.4 411.2 303.3 411.7 304.1 412.2 305.0 412.6 305.9 413.1 306.7 413.6 307.6 414.1 308.4 414.6 309.3 415.1 310.1 415.6 310.9 416.1 311.8 416.6 312.6 417.1 313.5 417.6 314.3 418.1 315.2 418.6 316.0 419.1 316.8 419.6 317.7 420.1 318.5 420.6 319.3 421.2 320.2 421.7 321.0 422.2 321.8 422.7 322.6 423.3 323.5 423.8 324.3 424.3 325.1 424.9 325.9 425.4 326.7 426.0 327.5 426.5 328.4 427.1 329.2 427.6 330.0 428.2 330.8 428.8 331.6 429.3 332.4 429.9 333.2 430.5 334.0 431.1 334.8 431.6 335.6 432.2 336.4 432.8 337.2 433.4 338.0 434.0 338.7 434.6 339.5 435.2 340.3 435.8 341.1 436.4 341.9 437.0 342.7 437.6 343.4 438.3 344.2 438.9 345.0 439.5 345.7 440.1 346.5 440.8 347.3 441.4 348.0 442.0 348.8 442.7 349.6 443.3 350.3 444.0 351.1 444.6 351.8 445.3 352.5 446.0 353.3 446.6 354.0 447.3 354.7 448.0 355.5 448.6 356.2 449.3 356.9 450.0 357.6 450.7 358.3 451.4 359.1 452.1 359.8 452.8 360.5 453.5 361.2 454.2 361.9 454.9 362.5 455.6 363.2 456.3 363.9 457.0 364.6 457.8 365.2 458.5 365.9 459.2 366.6 460.0 367.2 460.7 367.9 461.4 368.5 462.2 369.2 462.9 369.8 463.7 370.4 464.4 371.0 465.2 371.6 466.0 372.3 466.7 372.9 467.5 373.5 468.3 374.1 469.1 374.6 469.9 375.2 470.6 375.8 471.4 376.4 472.2 376.9 473.0 377.5 473.8 378.0 474.6 378.6 475.5 379.1 476.3 379.6 477.1 380.1 477.9 380.7 478.7 381.2 479.6 381.7 480.4 382.2 481.2 382.6 482.1 383.1 482.9 383.6 483.8 384.1 484.6 384.5 485.5 385.0 486.4 385.4 487.2 385.8 488.1 386.2 489.0 386.7 489.9 387.1 490.7 387.5 491.6 387.9 492.5 388.2 493.4 388.6 494.3 389.0 495.2 389.3 496.1 389.7 497.0 390.0 497.9 390.3 498.9 390.7 499.8 391.0 500.7 391.3 501.6 391.6 502.6 391.9 503.5 392.1 504.4 392.4 505.4 392.7 506.3 392.9 507.3 393.2 508.2 393.4 509.2 393.6 510.1 393.9 511.1 394.1 512.1 394.3 513.0 394.5 514.0 394.7 515.0 394.8 515.9 395.0 516.9 395.2 517.9 395.3 518.8 395.4 519.8 395.6 520.8 395.7 521.8 395.8 522.8 395.9 523.8 396.0 524.7 396.1 525.7 396.2 526.7 396.3 527.7 396.3 528.7 396.4 529.7 396.4 530.7 396.5 531.7 396.5 532.7 396.5 533.7 396.6 534.7 396.6 535.7 396.6 536.7 396.5 537.7 396.5 538.7 396.5 539.7 396.5 540.7 396.4 541.7 396.4 542.7 396.3 543.7 396.2" fill="none" stroke="#0000ff" stroke-width="1.8" stroke-linejoin="round"/>
</g>
<g font-size="14.6px">
<g transform="translate(52.25 418.60) scale(1 1.050)"><text x="0" y="0" text-anchor="middle">0</text></g>
<g transform="translate(45.70 403.30) scale(1 1.050)"><text x="0" y="0" text-anchor="end">0</text></g>
<g transform="translate(101.35 418.60) scale(1 1.050)"><text x="0" y="0" text-anchor="middle">0.1</text><rect x="1.94" y="-2.09" width="3.71" height="4.29" fill="#fff"/><rect x="7.04" y="-2.09" width="3.60" height="4.29" fill="#fff"/></g>
<g transform="translate(45.70 364.50) scale(1 1.050)"><text x="0" y="0" text-anchor="end">0.1</text><rect x="-8.21" y="-2.09" width="3.71" height="4.29" fill="#fff"/><rect x="-3.11" y="-2.09" width="3.60" height="4.29" fill="#fff"/></g>
<g transform="translate(150.45 418.60) scale(1 1.050)"><text x="0" y="0" text-anchor="middle">0.2</text></g>
<g transform="translate(45.70 325.70) scale(1 1.050)"><text x="0" y="0" text-anchor="end">0.2</text></g>
<g transform="translate(199.55 418.60) scale(1 1.050)"><text x="0" y="0" text-anchor="middle">0.3</text></g>
<g transform="translate(45.70 286.90) scale(1 1.050)"><text x="0" y="0" text-anchor="end">0.3</text></g>
<g transform="translate(248.65 418.60) scale(1 1.050)"><text x="0" y="0" text-anchor="middle">0.4</text></g>
<g transform="translate(45.70 248.10) scale(1 1.050)"><text x="0" y="0" text-anchor="end">0.4</text></g>
<g transform="translate(297.75 418.60) scale(1 1.050)"><text x="0" y="0" text-anchor="middle">0.5</text></g>
<g transform="translate(45.70 209.30) scale(1 1.050)"><text x="0" y="0" text-anchor="end">0.5</text></g>
<g transform="translate(346.85 418.60) scale(1 1.050)"><text x="0" y="0" text-anchor="middle">0.6</text></g>
<g transform="translate(45.70 170.50) scale(1 1.050)"><text x="0" y="0" text-anchor="end">0.6</text></g>
<g transform="translate(395.95 418.60) scale(1 1.050)"><text x="0" y="0" text-anchor="middle">0.7</text></g>
<g transform="translate(45.70 131.70) scale(1 1.050)"><text x="0" y="0" text-anchor="end">0.7</text></g>
<g transform="translate(445.05 418.60) scale(1 1.050)"><text x="0" y="0" text-anchor="middle">0.8</text></g>
<g transform="translate(45.70 92.90) scale(1 1.050)"><text x="0" y="0" text-anchor="end">0.8</text></g>
<g transform="translate(494.15 418.60) scale(1 1.050)"><text x="0" y="0" text-anchor="middle">0.9</text></g>
<g transform="translate(45.70 54.10) scale(1 1.050)"><text x="0" y="0" text-anchor="end">0.9</text></g>
<g transform="translate(543.25 418.60) scale(1 1.050)"><text x="0" y="0" text-anchor="middle">1</text><rect x="-4.15" y="-2.09" width="3.71" height="4.29" fill="#fff"/><rect x="0.95" y="-2.09" width="3.60" height="4.29" fill="#fff"/></g>
<g transform="translate(45.70 15.30) scale(1 1.050)"><text x="0" y="0" text-anchor="end">1</text><rect x="-8.21" y="-2.09" width="3.71" height="4.29" fill="#fff"/><rect x="-3.11" y="-2.09" width="3.60" height="4.29" fill="#fff"/></g>
</g>

<text x="297.8" y="442.5" font-size="17px" text-anchor="middle">IoU</text>
<text transform="translate(15.8,202.5) rotate(-90)" font-size="17px" text-anchor="middle">Recall</text>
<rect x="375.5" y="23.5" width="153" height="59" fill="#fff" stroke="#2a2a2a" stroke-width="1"/>
<path d="M380 34.9H414" stroke="#ff0000" stroke-width="1.8"/>
<path d="M380 53.7H414" stroke="#00ff00" stroke-width="1.8"/>
<path d="M380 72.5H414" stroke="#0000ff" stroke-width="1.8"/>
<g font-size="13.5px">
<text transform="translate(416.7 40) scale(1 1.08)">Proposed Method</text>
<text transform="translate(416.7 58.8) scale(1 1.08)">YOLOv3</text>
<text transform="translate(416.7 77.5) scale(1 1.08)">Fast R-CNN</text>
</g>
</svg>
</body></html>
